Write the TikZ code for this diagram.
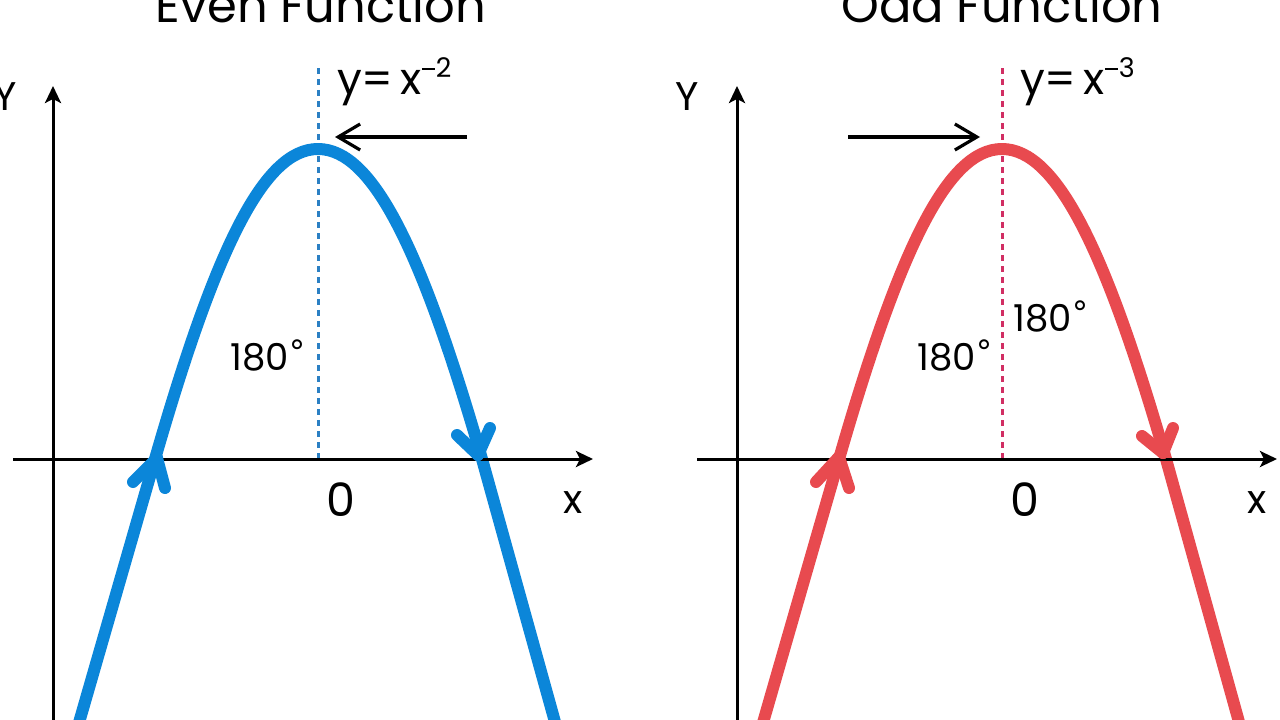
\documentclass[tikz,border=0pt]{standalone}
\usepackage{fontspec}
\setmainfont{Poppins}
\newfontfamily\symfont{DejaVu Sans}
\usetikzlibrary{arrows.meta}
\definecolor{cblue}{HTML}{0B86D9}
\definecolor{cred}{HTML}{E84A4F}
\definecolor{dblue}{HTML}{2B80C4}
\definecolor{dred}{HTML}{D12E63}
\newcommand{\degsym}{\hspace{1pt}\raisebox{7pt}{\symfont\fontsize{32}{36}\selectfont °}}
\newcommand{\supminus}[1]{\raisebox{17pt}{\rule[7pt]{13pt}{2.4pt}\hspace{1pt}\fontsize{27}{30}\selectfont #1}}
\begin{document}
\begin{tikzpicture}[x=1pt,y=-1pt,
  axisline/.style={line width=3pt,-{Stealth[length=17pt,width=16pt,inset=4pt]}},
  curveline/.style={line width=12pt,line cap=round,line join=round},
  dashline/.style={line width=3pt,dash pattern=on 6pt off 5pt},
  pointer/.style={line width=3.2pt,-{Straight Barb[length=22pt,width=26pt]}},
  lbl/.style={inner sep=0pt,font=\fontsize{40}{48}\selectfont},
  eqn/.style={inner sep=0pt,font=\fontsize{44}{52}\selectfont},
  deg/.style={inner sep=0pt,font=\fontsize{37}{42}\selectfont},
  ttl/.style={inner sep=0pt,font=\fontsize{48}{56}\selectfont}]
\useasboundingbox (0,0) rectangle (1280,720);
\clip (0,0) rectangle (1280,720);

% ---------- left panel ----------
\node[ttl,anchor=base] (t1) at (321,23) {Even Function};
\coordinate (d1a) at (318,68); \coordinate (d1b) at (318,459);
\draw[dashline,dblue] (d1a) -- (d1b);
\coordinate (c1a) at (74,740); \coordinate (c1l) at (155,459);
\coordinate (c1t) at (318,149); \coordinate (c1r) at (482,459);
\coordinate (c1b) at (560,740);
\draw[curveline,cblue] (c1a) -- (c1l) .. controls (215,251) and (263,149) .. (c1t)
  .. controls (373,149) and (422,251) .. (c1r) -- (c1b);
\coordinate (y1a) at (53,740); \coordinate (y1b) at (53,86);
\coordinate (x1a) at (13,459); \coordinate (x1b) at (593,459);
\draw[axisline] (y1a) -- (y1b);
\draw[axisline] (x1a) -- (x1b);
\coordinate (a1l) at (157,458); \coordinate (a1r) at (478,455);
\draw[curveline,cblue] (a1l) -- ++(-24,24);
\draw[curveline,cblue] (a1l) -- ++(8,30);
\draw[curveline,cblue] (a1r) -- ++(-21,-20);
\draw[curveline,cblue] (a1r) -- ++(12,-27);
\coordinate (p1s) at (467,137); \coordinate (p1e) at (335,137);
\draw[pointer] (p1s) -- (p1e);
\node[eqn,anchor=base west] (e1) at (337,94) {y=\hspace{7pt}x\supminus{2}};
\node[lbl] (Y1) at (5,97) {Y};
\node[lbl] (X1) at (573,503) {x};
\node[lbl,font=\fontsize{46}{52}\selectfont] (O1) at (341,500) {0};
\node[deg] (g1) at (268,355) {180\degsym};

% ---------- right panel ----------
\node[ttl,anchor=base] (t2) at (1002,23) {Odd Function};
\coordinate (d2a) at (1002,68); \coordinate (d2b) at (1002,459);
\draw[dashline,dred] (d2a) -- (d2b);
\coordinate (c2a) at (758,740); \coordinate (c2l) at (839,459);
\coordinate (c2t) at (1002,149); \coordinate (c2r) at (1166,459);
\coordinate (c2b) at (1244,740);
\draw[curveline,cred] (c2a) -- (c2l) .. controls (899,251) and (947,149) .. (c2t)
  .. controls (1057,149) and (1106,251) .. (c2r) -- (c2b);
\coordinate (y2a) at (737,740); \coordinate (y2b) at (737,86);
\coordinate (x2a) at (697,459); \coordinate (x2b) at (1277,459);
\draw[axisline] (y2a) -- (y2b);
\draw[axisline] (x2a) -- (x2b);
\coordinate (a2l) at (839,457); \coordinate (a2r) at (1163,453);
\draw[curveline,cred] (a2l) -- ++(-23,25);
\draw[curveline,cred] (a2l) -- ++(10,31);
\draw[curveline,cred] (a2r) -- ++(-21,-17);
\draw[curveline,cred] (a2r) -- ++(10,-25);
\coordinate (p2s) at (848,137); \coordinate (p2e) at (980,137);
\draw[pointer] (p2s) -- (p2e);
\node[eqn,anchor=base west] (e2) at (1020,94) {y=\hspace{7pt}x\supminus{3}};
\node[lbl] (Y2) at (687,97) {Y};
\node[lbl] (X2) at (1257,503) {x};
\node[lbl,font=\fontsize{46}{52}\selectfont] (O2) at (1025,500) {0};
\node[deg] (g2) at (955,355) {180\degsym};
\node[deg] (g3) at (1051,316) {180\degsym};
\end{tikzpicture}
\end{document}
